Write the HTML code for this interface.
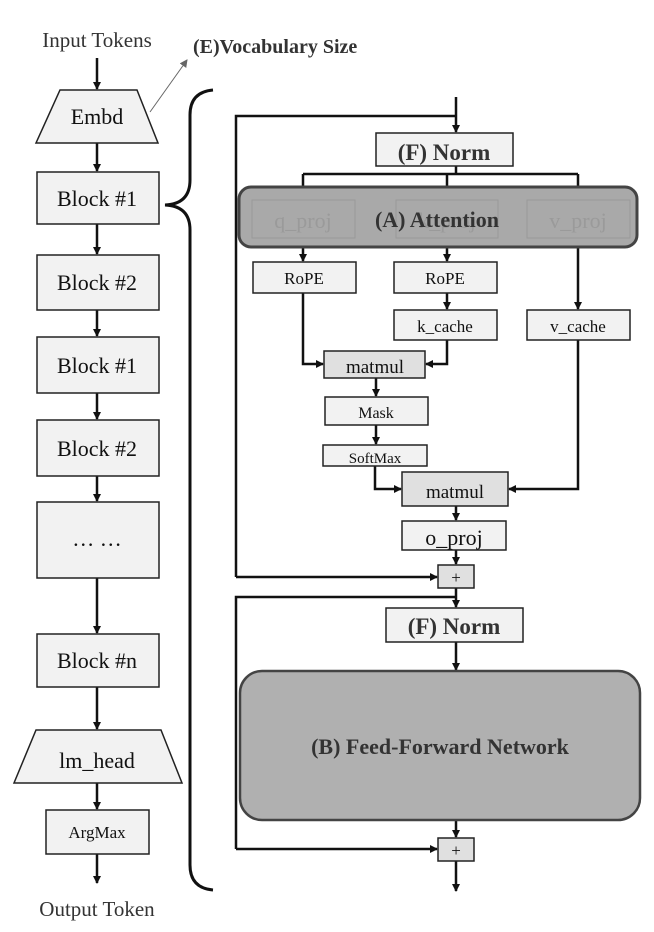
<!DOCTYPE html>
<html><head><meta charset="utf-8"><style>html,body{margin:0;padding:0;background:#fff}svg{display:block}</style></head><body>
<svg width="654" height="932" viewBox="0 0 654 932" xmlns="http://www.w3.org/2000/svg" font-family="Liberation Serif, serif">
<defs>
<marker id="a" markerWidth="8" markerHeight="8" refX="7" refY="4" orient="auto" markerUnits="userSpaceOnUse"><path d="M0,0 L8,4 L0,8 z" fill="#111"/></marker>
<marker id="g" markerWidth="8" markerHeight="8" refX="7" refY="4" orient="auto" markerUnits="userSpaceOnUse"><path d="M0,0 L8,4 L0,8 z" fill="#666"/></marker>
</defs>
<g fill="#111" font-size="21">
<text x="97" y="47" text-anchor="middle" fill="#333">Input Tokens</text>
<text x="97" y="916" text-anchor="middle" fill="#333">Output Token</text>
</g>
<text x="193" y="53" font-size="20" font-weight="bold" fill="#333">(E)Vocabulary Size</text>
<line x1="150" y1="112" x2="187" y2="60" stroke="#666" stroke-width="1" marker-end="url(#g)"/>
<g stroke="#111" stroke-width="2.5" fill="none" marker-end="url(#a)">
<line x1="97" y1="58" x2="97" y2="89"/>
<line x1="97" y1="143" x2="97" y2="171"/>
<line x1="97" y1="224" x2="97" y2="254"/>
<line x1="97" y1="310" x2="97" y2="336"/>
<line x1="97" y1="393" x2="97" y2="419"/>
<line x1="97" y1="476" x2="97" y2="501"/>
<line x1="97" y1="578" x2="97" y2="633"/>
<line x1="97" y1="687" x2="97" y2="729"/>
<line x1="97" y1="783" x2="97" y2="809"/>
<line x1="97" y1="854" x2="97" y2="883"/>
</g>
<g stroke="#222" stroke-width="1.5" fill="#f2f2f2">
<polygon points="60,90 137,90 158,143 36,143"/>
<rect x="37" y="172" width="122" height="52"/>
<rect x="37" y="255" width="122" height="55"/>
<rect x="37" y="337" width="122" height="56"/>
<rect x="37" y="420" width="122" height="56"/>
<rect x="37" y="502" width="122" height="76"/>
<rect x="37" y="634" width="122" height="53"/>
<polygon points="36,730 161,730 182,783 14,783"/>
<rect x="46" y="810" width="103" height="44"/>
</g>
<g font-size="22" text-anchor="middle" fill="#111">
<text x="97" y="124">Embd</text>
<text x="97" y="206">Block #1</text>
<text x="97" y="290">Block #2</text>
<text x="97" y="373">Block #1</text>
<text x="97" y="456">Block #2</text>
<text x="97" y="546">… …</text>
<text x="97" y="668">Block #n</text>
<text x="97" y="768">lm_head</text>
<text x="97" y="838" font-size="17">ArgMax</text>
</g>
<path d="M213,90 Q190,92 190,115 L190,180 Q190,204 165,205 Q190,206 190,230 L190,865 Q190,888 213,890" stroke="#111" stroke-width="3" fill="none"/>
<!-- right side -->
<g stroke="#111" stroke-width="2.5" fill="none">
<polyline points="236,577 236,116 456,116"/>
<polyline points="236,849 236,597 456,597"/>
<polyline points="303,174 578,174"/>
<line x1="456" y1="166" x2="456" y2="174"/>
</g>
<g stroke="#111" stroke-width="2.5" fill="none" marker-end="url(#a)">
<line x1="456" y1="97" x2="456" y2="132"/>
<line x1="303" y1="174" x2="303" y2="261"/>
<line x1="447" y1="174" x2="447" y2="261"/>
<line x1="578" y1="174" x2="578" y2="309"/>
<line x1="447" y1="293" x2="447" y2="309"/>
<polyline points="303,293 303,364 323,364"/>
<polyline points="447,340 447,364 426,364"/>
<line x1="376" y1="378" x2="376" y2="396"/>
<line x1="376" y1="425" x2="376" y2="444"/>
<polyline points="375,466 375,489 401,489"/>
<polyline points="578,340 578,489 509,489"/>
<line x1="456" y1="506" x2="456" y2="520"/>
<line x1="456" y1="550" x2="456" y2="564"/>
<line x1="236" y1="577" x2="437" y2="577"/>
<line x1="456" y1="588" x2="456" y2="607"/>
<line x1="456" y1="642" x2="456" y2="670"/>
<line x1="456" y1="820" x2="456" y2="837"/>
<line x1="236" y1="849" x2="437" y2="849"/>
<line x1="456" y1="861" x2="456" y2="891"/>
</g>
<g stroke="#222" stroke-width="1.5">
<rect x="376" y="133" width="137" height="33" fill="#f2f2f2"/>
<rect x="239" y="187" width="398" height="60" rx="12" fill="#a9a9a9" stroke="#444" stroke-width="3"/>
<rect x="252" y="200" width="103" height="38" fill="none" stroke="#999" stroke-width="1"/>
<rect x="396" y="200" width="102" height="38" fill="none" stroke="#999" stroke-width="1"/>
<rect x="527" y="200" width="103" height="38" fill="none" stroke="#999" stroke-width="1"/>
<rect x="253" y="262" width="103" height="31" fill="#f2f2f2"/>
<rect x="394" y="262" width="103" height="31" fill="#f2f2f2"/>
<rect x="394" y="310" width="103" height="30" fill="#f2f2f2"/>
<rect x="527" y="310" width="103" height="30" fill="#f2f2f2"/>
<rect x="324" y="351" width="101" height="27" fill="#e0e0e0"/>
<rect x="325" y="397" width="103" height="28" fill="#f2f2f2"/>
<rect x="323" y="445" width="104" height="21" fill="#f2f2f2"/>
<rect x="402" y="472" width="106" height="34" fill="#e0e0e0"/>
<rect x="402" y="521" width="104" height="29" fill="#f2f2f2"/>
<rect x="438" y="565" width="36" height="23" fill="#e0e0e0"/>
<rect x="386" y="608" width="137" height="34" fill="#f2f2f2"/>
<rect x="240" y="671" width="400" height="149" rx="22" fill="#b0b0b0" stroke="#444" stroke-width="2.5"/>
<rect x="438" y="838" width="36" height="23" fill="#e0e0e0"/>
</g>
<g text-anchor="middle" fill="#111">
<text x="444" y="160" font-size="23" font-weight="bold" fill="#333">(F) Norm</text>
<text x="303" y="228" font-size="22" fill="#9a9a9a">q_proj</text>
<text x="447" y="228" font-size="22" fill="#9a9a9a">k_proj</text>
<text x="578" y="228" font-size="22" fill="#9a9a9a">v_proj</text>
<text x="437" y="227" font-size="22" font-weight="bold" fill="#333">(A) Attention</text>
<text x="304" y="284" font-size="17">RoPE</text>
<text x="445" y="284" font-size="17">RoPE</text>
<text x="445" y="332" font-size="17">k_cache</text>
<text x="578" y="332" font-size="17">v_cache</text>
<text x="375" y="373" font-size="19">matmul</text>
<text x="376" y="418" font-size="16">Mask</text>
<text x="375" y="463" font-size="15">SoftMax</text>
<text x="455" y="498" font-size="19">matmul</text>
<text x="454" y="545" font-size="22">o_proj</text>
<text x="456" y="583" font-size="17">+</text>
<text x="454" y="634" font-size="23" font-weight="bold" fill="#333">(F) Norm</text>
<text x="440" y="754" font-size="22" font-weight="bold" fill="#333">(B) Feed-Forward Network</text>
<text x="456" y="856" font-size="17">+</text>
</g>
</svg>
</body></html>
